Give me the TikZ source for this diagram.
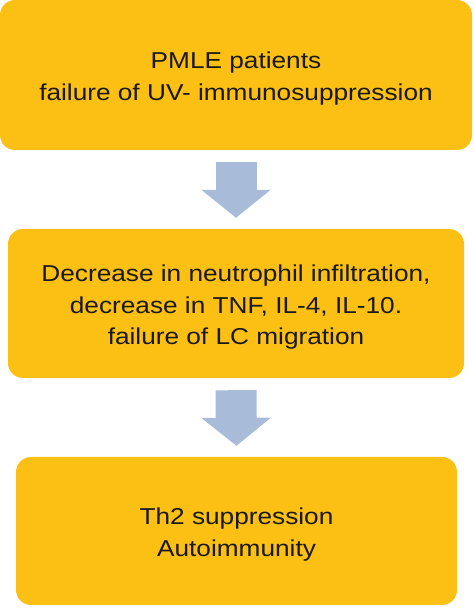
\documentclass[tikz,border=0pt]{standalone}
\usepackage{fontspec}
\setmainfont{Liberation Sans}[FakeStretch=1.14]
\usepackage{xcolor}
\usetikzlibrary{calc, positioning}
\usetikzlibrary{arrows.meta}

\definecolor{boxorange}{RGB}{252,191,20}
\definecolor{arrowblue}{RGB}{168,187,216}

% taller first line, pushes the text block a little down
\newcommand{\firstline}{\rule{0pt}{24pt}}

\tikzset{
  stepbox/.style={fill=boxorange, rounded corners=15pt, inner sep=0pt,
    align=center, text=black!90, font=\fontsize{23}{31.5}\selectfont},
  flowarrow/.style={draw=arrowblue, line width=41pt,
    -{Triangle[width=68pt,length=28pt]}, shorten <=12pt, shorten >=11pt}
}

\begin{document}
\begin{tikzpicture}[x=1pt,y=1pt]
\useasboundingbox (0,0) rectangle (474,608);

% The three steps, top to bottom.
\node[stepbox,minimum width=472pt,minimum height=150pt] (pmle) at (236,533)
  {\firstline PMLE patients\\failure of UV- immunosuppression};
\node[stepbox,minimum width=456pt,minimum height=149pt] (change) at (236,304.5)
  {\firstline Decrease in neutrophil infiltration,\\decrease in TNF, IL-4, IL-10.\\failure of LC migration};
\node[stepbox,minimum width=441pt,minimum height=148pt] (result) at (236.5,77)
  {\firstline Th2 suppression\\Autoimmunity};

% Block arrows between the steps.
\draw[flowarrow] (pmle.south) -- (change.north);
\draw[flowarrow] (change.south) -- (result.north);
\end{tikzpicture}
\end{document}
